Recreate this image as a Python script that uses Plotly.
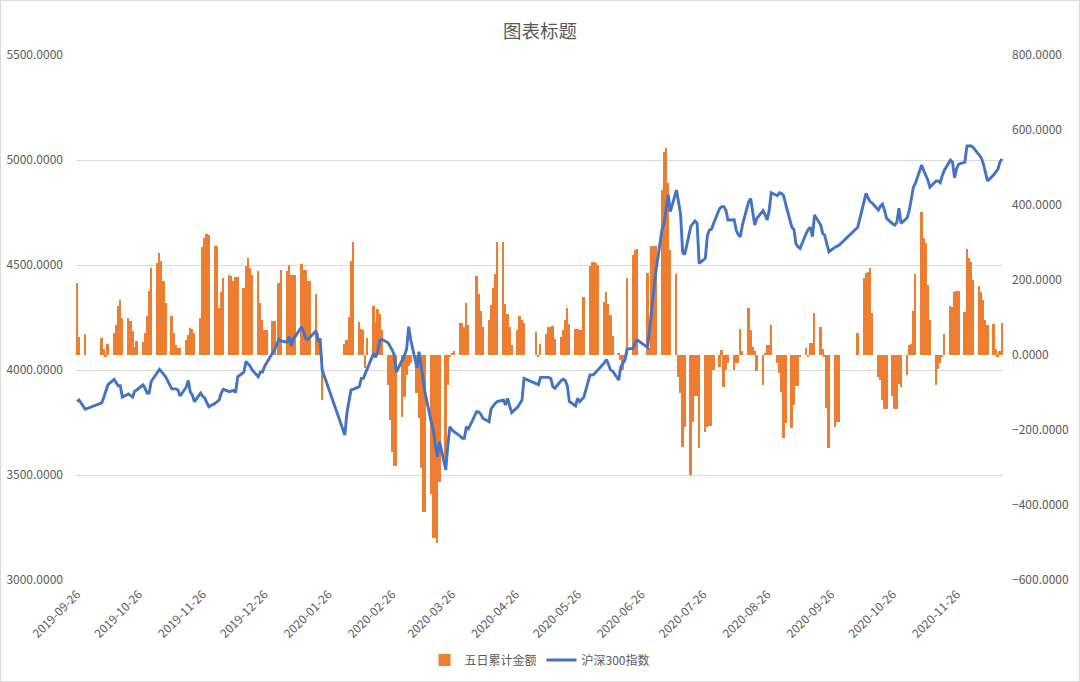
import pandas as pd
import plotly.graph_objects as go

# ---------------- data ----------------
holidays = ["2019-10-01", "2019-10-02", "2019-10-03", "2019-10-04", "2019-10-07",
            "2020-01-01", "2020-01-24", "2020-01-27", "2020-01-28", "2020-01-29",
            "2020-01-30", "2020-01-31", "2020-04-06", "2020-05-01", "2020-05-04",
            "2020-05-05", "2020-06-25", "2020-06-26", "2020-10-01", "2020-10-02",
            "2020-10-05", "2020-10-06", "2020-10-07", "2020-10-08"]
first_day = "2019-09-26"
last_day = "2020-12-18"

flow_5d = [
    193, 48, 56,
    45, 15, -5, 29,
    59, 80, 131, 147, 99,
    100, 90, 65, 21, 37,
    36, 58, 104, 172, 232,
    245, 272, 252, 197, 138,
    104, 60, 27, 19, 19,
    40, 53, 73, 70, 59,
    100, 289, 311, 322, 320,
    290, 290, 125, 169, 206,
    213, 211, 198, 207, 207,
    180, 237, 258, 231, 213,
    224, 138, 93, 67, 67,
    92, 92,
    192, 227,
    224, 240, 213, 213, 213,
    243, 228, 227, 197, 197,
    162, 58, 45, -120,
    29, 40, 102, 250, 302,
    88, 69, 67, -35, 46,
    131, 89, 122, 110, 67,
    -80, -173, -258, -296, -296,
    -164, -112, -53, -30, -20,
    -102, -169, -302, -418, -418,
    -371, -488, -488, -502, -338,
    -293, -80, -5, 5, 12,
    85, 85, 76, 138, 80,
    211, 163, 117, 74,
    93, 133, 179, 216, 302,
    302, 136, 109, 74, 27,
    67, 104, 93, 85,
    62, -3, 29,
    56, 74, 76, 77, 42,
    49, 68, 93, 126, 83,
    70, 70, 68, 68, 156,
    237, 249, 249, 245, 240,
    141, 169, 136, 107, 51,
    5, -13, -40, -10, 205,
    267, 280, 283,
    218, 20, 290, 290, 290,
    440, 542, 551, 458, 280,
    215, -58, -102, -245, -191,
    -320, -178, -109, -109, -248,
    -204, -191, -189, -189, -40,
    -31, 13, -84, -40, -20,
    -40, -22, -20, 69, 10,
    126, 67, 21, 12, -42,
    -80, 5, 27, 27, 80,
    -20, -49, -98, -222, -180,
    -195, -133, -83, -83, -5,
    19, -4, 33, 33, 112,
    76, 16, -5, -142, -248,
    -193, -178, -178,
    59,
    205, 218, 222, 232, 112,
    -58, -67, -120, -144, -144,
    -109, -144, -144, -76, -84,
    -53, 27, 30, 118, 216,
    382, 311, 298, 187, 93,
    -80, -36, -22, -5, 56,
    131, 129, 169, 171, 171,
    116, 284, 258, 247, 200,
    185, 169, 148, 93, 80,
    84, 15, -5, 10, 86,
]

csi300 = [
    3850, 3857, 3813,
    3843, 3870, 3905, 3930,
    3955, 3940, 3925, 3925, 3871,
    3886, 3880, 3871, 3900, 3905,
    3929, 3915, 3890, 3890, 3945,
    3985, 4003, 3992, 3980, 3968,
    3910, 3910, 3910, 3905, 3876,
    3918, 3950, 3895, 3880, 3849,
    3890, 3875, 3867, 3845, 3825,
    3841, 3850, 3857, 3890, 3908,
    3897, 3900, 3903, 3893, 3968,
    3990, 4040, 4030, 4019, 4000,
    3968, 3990, 3990, 4016, 4032,
    4085, 4100,
    4146, 4138,
    4133, 4159, 4114, 4150, 4160,
    4206, 4182, 4150, 4146, 4155,
    4187, 4135, 4150, 4000,
    3690, 3794, 3850, 3905, 3908,
    3921, 3960, 3960, 3985, 4010,
    4079, 4060, 4090, 4140, 4146,
    4130, 4115, 4095, 4070, 3990,
    4050, 4070, 4100, 4206, 4143,
    4010, 4087, 4020, 3950, 3889,
    3750, 3714, 3640, 3587, 3659,
    3524, 3640, 3730, 3715, 3706,
    3685, 3675, 3675, 3730, 3720,
    3802, 3800, 3790, 3770,
    3754, 3815, 3830, 3841, 3850,
    3857, 3833, 3865, 3830, 3797,
    3825, 3840, 3857, 3960,
    3935, 3930, 3965,
    3965, 3965, 3960, 3920, 3913,
    3950, 3956, 3950, 3925, 3850,
    3829, 3865, 3849, 3860, 3870,
    3976, 3976, 3980, 3990, 4000,
    4035, 4050, 4025, 4000, 3995,
    3952, 4016, 4030, 4048, 4100,
    4103, 4130, 4143,
    4108, 4190, 4280, 4380, 4470,
    4670, 4700, 4760, 4835, 4754,
    4857, 4800, 4740, 4560, 4550,
    4685, 4700, 4710, 4700, 4508,
    4532, 4640, 4667, 4670, 4698,
    4770, 4778, 4778, 4760, 4714,
    4715, 4665, 4645, 4635, 4690,
    4800, 4817, 4760, 4690, 4722,
    4759, 4740, 4714, 4760, 4844,
    4830, 4844, 4840, 4830, 4790,
    4680, 4670, 4600, 4587, 4579,
    4651, 4670, 4680, 4635, 4738,
    4690, 4650, 4640, 4600, 4563,
    4585, 4590, 4595,
    4680,
    4800, 4841, 4820, 4802, 4795,
    4762, 4780, 4790, 4760, 4722,
    4695, 4690, 4705, 4770, 4698,
    4725, 4760, 4810, 4870, 4890,
    4976, 4950, 4925, 4905, 4870,
    4900, 4900, 4892, 4925, 4950,
    5000, 4990, 4915, 4960, 4980,
    4990, 5067, 5067, 5067, 5060,
    5025, 5010, 4980, 4935, 4900,
    4930, 4945, 4956, 4990, 5005,
]

tick_dates = ["2019-09-26", "2019-10-26", "2019-11-26", "2019-12-26", "2020-01-26",
              "2020-02-26", "2020-03-26", "2020-04-26", "2020-05-26", "2020-06-26",
              "2020-07-26", "2020-08-26", "2020-09-26", "2020-10-26", "2020-11-26"]
left_ticks = [3000, 3500, 4000, 4500, 5000, 5500]
right_ticks = [-600, -400, -200, 0, 200, 400, 600, 800]

# ---------------- build ----------------
days = [d for d in pd.bdate_range(first_day, last_day) if d.strftime("%Y-%m-%d") not in holidays]
if not (len(days) == len(flow_5d) == len(csi300)):
    raise ValueError(f"length mismatch {len(days)} {len(flow_5d)} {len(csi300)}")

GREY = "#595959"
FONT = "Noto Sans CJK SC, Noto Sans, sans-serif"
DAY_MS = 86400000

fig = go.Figure()
fig.add_trace(go.Bar(
    x=days, y=flow_5d, name="五日累计金额", yaxis="y",
    marker=dict(color="#ED7D31", line=dict(width=0)),
    width=DAY_MS * 0.92,
))
fig.add_trace(go.Scatter(
    x=days, y=csi300, name="沪深300指数", yaxis="y2", mode="lines",
    line=dict(color="#4472C4", width=2.9),
))

W, H = 1080, 682
L, R, T, B = 76, 77, 55, 102
pw, ph = W - L - R, H - T - B

fig.update_layout(
    width=W, height=H,
    margin=dict(l=L, r=R, t=T, b=B, autoexpand=False),
    paper_bgcolor="white", plot_bgcolor="white",
    font=dict(family=FONT, size=12, color=GREY),
    title=dict(text="图表标题", x=0.5, xanchor="center", y=1 - 32 / H, yanchor="middle",
               font=dict(size=18.5, color=GREY, family=FONT)),
    bargap=0,
    showlegend=True,
    legend=dict(orientation="h", x=0.5, xanchor="center", y=-(660 - 580) / ph, yanchor="middle",
                font=dict(size=12, color=GREY), traceorder="normal"),
    xaxis=dict(
        type="date",
        range=[pd.Timestamp(first_day) - pd.Timedelta(hours=12), pd.Timestamp(last_day) + pd.Timedelta(hours=12)],
        tickvals=tick_dates, ticktext=tick_dates, tickangle=-45,
        showgrid=False, showline=False, zeroline=False, ticks="",
        tickfont=dict(size=12, color=GREY), ticklabelstandoff=4,
    ),
    yaxis=dict(
        side="right", range=[-600, 800], tickvals=right_ticks,
        tickformat=".4f", showgrid=False, zeroline=False, showline=False, ticks="",
        tickfont=dict(size=12, color=GREY), ticklabelstandoff=8,
    ),
    yaxis2=dict(
        side="left", overlaying="y", range=[3000, 5500], tickvals=left_ticks,
        tickformat=".4f", showgrid=True, gridcolor="#D9D9D9", gridwidth=1,
        zeroline=False, showline=False, ticks="",
        tickfont=dict(size=12, color=GREY), ticklabelstandoff=12,
    ),
    shapes=[dict(type="rect", xref="paper", yref="paper",
                 x0=-(L - 0.5) / pw, x1=1 + (R - 0.5) / pw,
                 y0=-(B - 0.5) / ph, y1=1 + (T - 0.5) / ph,
                 line=dict(color="#D9D9D9", width=1), fillcolor="rgba(0,0,0,0)", layer="below")],
)

fig.write_html("out.html")
